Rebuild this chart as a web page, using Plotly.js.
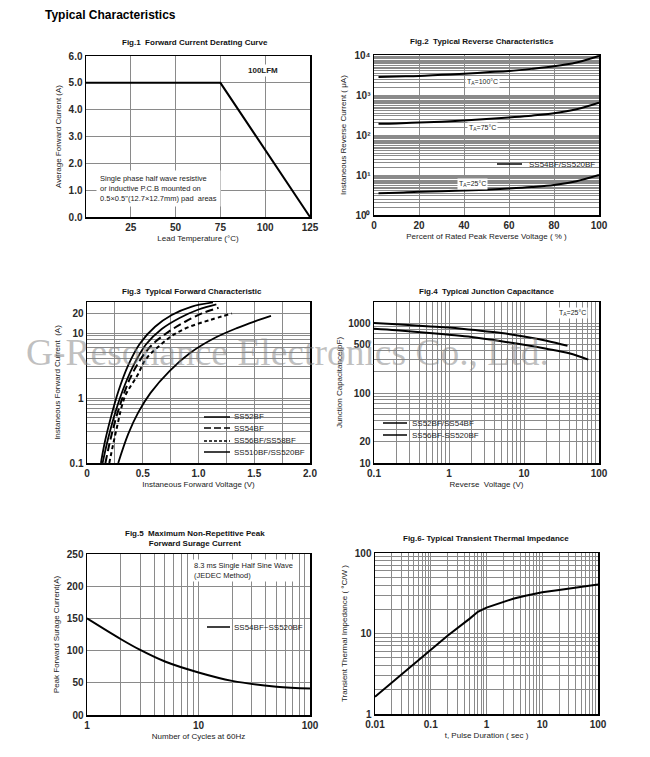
<!DOCTYPE html>
<html><head><meta charset="utf-8">
<script src="https://cdn.plot.ly/plotly-3.0.1.min.js"></script>
<style>html,body{margin:0;padding:0;background:#fff}#chart{width:650px;height:757px}</style>
</head><body><div id="chart"></div>
<script>
// ---------------- DATA ----------------
// Fig.1 Forward Current Derating Curve
const fig1Temp = [0, 75, 125];
const fig1Current = [5, 5, 0];
const fig1XTicks = [25, 50, 75, 100, 125];

// Fig.2 Typical Reverse Characteristics
const fig2Pct = [2, 10, 20, 30, 40, 50, 60, 70, 80, 90, 100];
const fig2I100 = [2800, 2900, 3000, 3200, 3400, 3700, 4000, 4500, 5200, 6500, 9500];
const fig2I75 = [190, 195, 205, 215, 230, 250, 275, 305, 350, 440, 640];
const fig2I25 = [3.5, 3.6, 3.8, 3.9, 4.1, 4.3, 4.6, 5.0, 5.6, 7, 10];
const fig2YTicks = [1, 10, 100, 1000, 10000];
const fig2YLabels = ['10⁰', '10¹', '10²', '10³', '10⁴'];

// Fig.3 Typical Forward Characteristic
const fig3V52a = [0.125, 0.16, 0.22, 0.28, 0.37, 0.475, 0.61, 0.76, 0.94, 1.13];
const fig3I52a = [0.1, 0.21, 0.55, 1.25, 3.2, 6.9, 12.5, 18.9, 25.5, 29.5];
const fig3V52b = [0.14, 0.19, 0.26, 0.34, 0.43, 0.53, 0.67, 0.83, 1.0, 1.16];
const fig3I52b = [0.1, 0.24, 0.65, 1.6, 3.5, 6.7, 11.5, 17, 23, 27.5];
const fig3V54 = [0.165, 0.22, 0.296, 0.386, 0.475, 0.58, 0.73, 0.88, 1.03, 1.18];
const fig3I54 = [0.1, 0.27, 0.78, 2.0, 3.8, 6.5, 10.4, 14.9, 20, 24.5];
const fig3V56 = [0.2, 0.266, 0.34, 0.45, 0.53, 0.66, 0.78, 0.92, 1.1, 1.3];
const fig3I56 = [0.1, 0.34, 1.05, 2.2, 4, 6.6, 9.5, 12.5, 15.8, 20];
const fig3V510 = [0.28, 0.37, 0.46, 0.57, 0.74, 0.93, 1.14, 1.35, 1.5, 1.65];
const fig3I510 = [0.1, 0.28, 0.6, 1.2, 2.6, 5, 8.3, 12, 15, 18.3];
const fig3XTicks = [0, 0.5, 1.0, 1.5, 2.0];
const fig3XLabels = ['0', '0.5', '1.0', '1.5', '2.0'];
const fig3YTicks = [0.1, 1, 10, 20];
const fig3YLabels = ['0.1', '1', '10', '20'];
const fig3Names = ['SS52BF', 'SS54BF', 'SS56BF/SS58BF', 'SS510BF/SS520BF'];

// Fig.4 Typical Junction Capacitance
const fig4V1 = [0.1, 0.2, 0.5, 1, 2, 5, 10, 20, 38];
const fig4C1 = [1000, 960, 900, 865, 800, 720, 645, 560, 473];
const fig4V2 = [0.1, 0.2, 0.5, 1, 2, 5, 10, 20, 40, 72];
const fig4C2 = [830, 790, 730, 680, 630, 550, 490, 430, 370, 300];
const fig4XTicks = [0.1, 1, 10, 100];
const fig4XLabels = ['0.1', '1', '10', '100'];
const fig4YTicks = [10, 20, 100, 500, 1000];
const fig4YLabels = ['10', '20', '100', '500', '1000'];
const fig4Names = ['SS52BF/SS54BF', 'SS56BF-SS520BF'];

// Fig.5 Maximum Non-Repetitive Peak Forward Surage Current
const fig5N = [1, 2, 3, 5, 10, 20, 50, 100];
const fig5I = [150, 118, 101, 83, 66, 53, 44, 41];
const fig5XTicks = [1, 10, 100];
const fig5XLabels = ['1', '10', '100'];
const fig5YTicks = [0, 50, 100, 150, 200, 250];
const fig5YLabels = ['00', '50', '100', '150', '200', '250'];

// Fig.6 Typical Transient Thermal Impedance
const fig6T = [0.01, 0.02, 0.05, 0.1, 0.2, 0.5, 0.7, 1, 2, 3, 5, 10, 20, 30, 50, 100];
const fig6Z = [1.64, 2.45, 4.1, 6.2, 9.4, 15.3, 18.6, 21, 24.8, 27, 29.5, 32.5, 34.8, 36.3, 38.3, 40.5];
const fig6XTicks = [0.01, 0.1, 1, 10, 100];
const fig6XLabels = ['0.01', '0.1', '1', '10', '100'];
const fig6YTicks = [1, 10, 100];
const fig6YLabels = ['1', '10', '100'];

// ---------------- HELPERS ----------------
const W = 650, H = 757;
const FONT = 'Liberation Sans, Arial, sans-serif';
const GRID = '#8a8a8a';
const px = x => x / W;
const py = y => 1 - y / H;
const dX = (a, b) => [a / W, b / W];
const dY = (t, b) => [1 - b / H, 1 - t / H];

// gridline positions for log axes (not data)
function logGrid(k0, k1, steps, extra) {
  const out = [];
  for (let k = k0; k < k1; k++) for (const s of steps) out.push(Number((s * Math.pow(10, k)).toPrecision(6)));
  out.push(Number(Math.pow(10, k1).toPrecision(6)));
  if (extra) extra.forEach(v => out.push(v));
  return out;
}
function minorGrid(vals) {
  return { tickmode: 'array', tickvals: vals, showgrid: true, gridcolor: GRID, gridwidth: 1, ticks: '' };
}
const tickFont = { family: FONT, size: 10, color: '#2a2a2a', weight: 'bold' };
const titleFont = { family: FONT, size: 8, color: '#222' };
function axis(domain, anchor, extra) {
  return Object.assign({
    domain: domain, anchor: anchor, showline: true, mirror: true, linecolor: '#000', linewidth: 1.5,
    showgrid: true, gridcolor: GRID, gridwidth: 1, zeroline: false, ticks: '',
    tickfont: tickFont, fixedrange: true, automargin: false
  }, extra);
}
const steps9 = [1, 2, 3, 4, 5, 6, 7, 8, 9];
const steps05 = [1, 1.5, 2, 2.5, 3, 3.5, 4, 4.5, 5, 5.5, 6, 6.5, 7, 7.5, 8, 8.5, 9, 9.5];

const line = (w, dash) => ({ color: '#000', width: w, dash: dash || 'solid' });
const spl = (w, dash) => Object.assign(line(w, dash), { shape: 'spline' });

// ---------------- TRACES ----------------
const traces = [
  { x: fig1Temp, y: fig1Current, xaxis: 'x', yaxis: 'y', mode: 'lines', line: line(2) },
  { x: fig2Pct, y: fig2I100, xaxis: 'x2', yaxis: 'y2', mode: 'lines', line: spl(2) },
  { x: fig2Pct, y: fig2I75, xaxis: 'x2', yaxis: 'y2', mode: 'lines', line: spl(2) },
  { x: fig2Pct, y: fig2I25, xaxis: 'x2', yaxis: 'y2', mode: 'lines', line: spl(2) },
  { x: fig3V52a, y: fig3I52a, xaxis: 'x3', yaxis: 'y3', mode: 'lines', name: fig3Names[0], line: spl(1.8) },
  { x: fig3V52b, y: fig3I52b, xaxis: 'x3', yaxis: 'y3', mode: 'lines', name: fig3Names[0], line: spl(1.8) },
  { x: fig3V54, y: fig3I54, xaxis: 'x3', yaxis: 'y3', mode: 'lines', name: fig3Names[1], line: spl(2, '8px,4px') },
  { x: fig3V56, y: fig3I56, xaxis: 'x3', yaxis: 'y3', mode: 'lines', name: fig3Names[2], line: spl(2, '4px,3px') },
  { x: fig3V510, y: fig3I510, xaxis: 'x3', yaxis: 'y3', mode: 'lines', name: fig3Names[3], line: spl(1.8) },
  { x: fig4V1, y: fig4C1, xaxis: 'x4', yaxis: 'y4', mode: 'lines', name: fig4Names[0], line: spl(2) },
  { x: fig4V2, y: fig4C2, xaxis: 'x4', yaxis: 'y4', mode: 'lines', name: fig4Names[1], line: spl(2) },
  { x: fig5N, y: fig5I, xaxis: 'x5', yaxis: 'y5', mode: 'lines', name: 'SS54BF~SS520BF', line: spl(2) },
  { x: fig6T, y: fig6Z, xaxis: 'x6', yaxis: 'y6', mode: 'lines', line: line(2) }
];

// ---------------- ANNOTATIONS ----------------
function note(x, y, text, o) {
  return Object.assign({ xref: 'paper', yref: 'paper', x: px(x), y: py(y), text: text, showarrow: false,
    xanchor: 'center', yanchor: 'middle', font: { family: FONT, size: 7.5, color: '#222' } }, o || {});
}
const bold8 = { family: FONT, size: 8, color: '#111', weight: 'bold' };
const lab7 = { family: FONT, size: 7, color: '#222' };
const leg8 = { family: FONT, size: 8, color: '#222' };
const ann = [
  note(195, 43, 'Fig.1  Forward Current Derating Curve', { font: bold8 }),
  note(482, 42, 'Fig.2  Typical Reverse Characteristics', { font: bold8 }),
  note(192, 292, 'Fig.3  Typical Forward Characteristic', { font: bold8 }),
  note(487, 291, 'Fig.4  Typical Junction Capacitance', { font: bold8 }),
  note(195, 538, 'Fig.5  Maximum Non-Repetitive Peak<br>Forward Surage Current', { font: bold8 }),
  note(486, 538, 'Fig.6- Typical Transient Thermal Impedance', { font: bold8 }),

  note(263, 70, '100LFM', { font: { family: FONT, size: 8, color: '#222', weight: 'bold' }, bgcolor: '#fff' }),
  note(96, 189, 'Single phase half wave resistive<br>or inductive P.C.B mounted on<br>0.5×0.5"(12.7×12.7mm) pad  areas',
    { xanchor: 'left', align: 'left', bgcolor: '#fff', borderpad: 3 }),

  note(482, 82, 'T<sub>A</sub>=100°C', { font: lab7, bgcolor: '#fff' }),
  note(482, 128, 'T<sub>A</sub>=75°C', { font: lab7, bgcolor: '#fff' }),
  note(473, 184, 'T<sub>A</sub>=25°C', { font: lab7, bgcolor: '#fff' }),
  note(527, 164, 'SS54BF/SS520BF', { xanchor: 'left', font: leg8 }),

  note(232, 417, fig3Names[0], { xanchor: 'left', font: leg8 }),
  note(232, 428, fig3Names[1], { xanchor: 'left', font: leg8 }),
  note(232, 441, fig3Names[2], { xanchor: 'left', font: leg8 }),
  note(232, 452, fig3Names[3], { xanchor: 'left', font: leg8 }),

  note(572, 313, 'T<sub>A</sub>=25°C', { font: lab7, bgcolor: '#fff' }),
  note(410, 423, fig4Names[0], { xanchor: 'left', font: leg8 }),
  note(410, 435, fig4Names[1], { xanchor: 'left', font: leg8 }),

  note(192, 570, '8.3 ms Single Half Sine Wave<br>(JEDEC Method)', { xanchor: 'left', align: 'left', bgcolor: '#fff' }),
  note(232, 627, 'SS54BF~SS520BF', { xanchor: 'left', font: leg8 }),

  note(287, 352, 'G-Resonance Electronics Co., Ltd.', { font: { family: 'Liberation Serif, Times New Roman, serif', size: 37.5, color: 'rgba(130,130,130,0.5)' } })
];

// ---------------- SHAPES (legend boxes & samples) ----------------
function rect(x0, y0, x1, y1) {
  return { type: 'rect', xref: 'paper', yref: 'paper', x0: px(x0), x1: px(x1), y0: py(y1), y1: py(y0), fillcolor: '#fff', line: { width: 0 }, layer: 'between' };
}
function sample(x0, x1, y, dash) {
  return { type: 'line', xref: 'paper', yref: 'paper', x0: px(x0), x1: px(x1), y0: py(y), y1: py(y), line: { color: '#000', width: 1.5, dash: dash || 'solid' }, layer: 'above' };
}
const shapes = [
  rect(494, 157, 598, 171), sample(497, 522, 164),
  rect(200, 408, 309.5, 462), sample(204, 230, 417), sample(204, 230, 428, '7px,3px'), sample(204, 230, 441, '3px,2px'), sample(204, 230, 452),
  rect(375, 416, 482, 441), sample(383, 407, 423), sample(383, 407, 435),
  rect(203, 620, 309.5, 634), sample(207, 230, 627)
];

// ---------------- LAYOUT ----------------
const layout = {
  width: W, height: H, margin: { l: 0, r: 0, t: 0, b: 0 }, paper_bgcolor: '#fff', plot_bgcolor: '#fff',
  title: { text: 'Typical Characteristics', x: px(45), xanchor: 'left', xref: 'paper', y: py(15), yanchor: 'middle',
    font: { family: FONT, size: 12, color: '#000', weight: 'bold' } },
  showlegend: false,
  xaxis: axis(dX(86, 310), 'y', { range: [0, 125], tickvals: fig1XTicks, title: { text: 'Lead Temperature (°C)', font: titleFont, standoff: 4 } }),
  yaxis: axis(dY(56, 217), 'x', { range: [0, 6], dtick: 1, tickformat: '.1f', title: { text: 'Average Forward Current (A)', font: titleFont, standoff: 6 } }),

  xaxis2: axis(dX(374, 599), 'y2', { range: [0, 100], dtick: 20, title: { text: 'Percent of Rated Peak Reverse Voltage ( % )', font: titleFont, standoff: 4 } }),
  yaxis2: axis(dY(55, 215), 'x2', { type: 'log', range: [0, 4], tickvals: fig2YTicks, ticktext: fig2YLabels, minor: minorGrid(logGrid(0, 4, steps05)),
    title: { text: 'Instaneous Reverse Current ( μA)', font: titleFont, standoff: 6 } }),

  xaxis3: axis(dX(87, 310), 'y3', { range: [0, 2], tickvals: fig3XTicks, ticktext: fig3XLabels, minor: minorGrid([0.25, 0.75, 1.25, 1.75]),
    title: { text: 'Instaneous Forward Voltage (V)', font: titleFont, standoff: 4 } }),
  yaxis3: axis(dY(302, 463), 'x3', { type: 'log', range: [-1, Math.log10(30)], tickvals: fig3YTicks, ticktext: fig3YLabels, minor: minorGrid(logGrid(-1, 1, steps9, [30])),
    title: { text: 'Instaneous Forward Current  (A)', font: titleFont, standoff: 8 } }),

  xaxis4: axis(dX(374, 599), 'y4', { type: 'log', range: [-1, 2], tickvals: fig4XTicks, ticktext: fig4XLabels, minor: minorGrid(logGrid(-1, 2, steps9)),
    title: { text: 'Reverse  Voltage (V)', font: titleFont, standoff: 4 } }),
  yaxis4: axis(dY(302, 463), 'x4', { type: 'log', range: [1, Math.log10(2000)], tickvals: fig4YTicks, ticktext: fig4YLabels, minor: minorGrid(logGrid(1, 3, steps9, [2000])),
    title: { text: 'Junction Capacitance(pF)', font: titleFont, standoff: 4 } }),

  xaxis5: axis(dX(87, 310), 'y5', { type: 'log', range: [0, 2], tickvals: fig5XTicks, ticktext: fig5XLabels, minor: minorGrid(logGrid(0, 2, steps9)),
    title: { text: 'Number of Cycles at 60Hz', font: titleFont, standoff: 4 } }),
  yaxis5: axis(dY(554, 715), 'x5', { range: [0, 250], tickvals: fig5YTicks, ticktext: fig5YLabels,
    title: { text: 'Peak Forward Surage Current(A)', font: titleFont, standoff: 6 } }),

  xaxis6: axis(dX(375, 598), 'y6', { type: 'log', range: [-2, 2], tickvals: fig6XTicks, ticktext: fig6XLabels, minor: minorGrid(logGrid(-2, 2, steps9)),
    title: { text: 't, Pulse Duration ( sec )', font: titleFont, standoff: 4 } }),
  yaxis6: axis(dY(553, 714), 'x6', { type: 'log', range: [0, 2], tickvals: fig6YTicks, ticktext: fig6YLabels, minor: minorGrid(logGrid(0, 2, steps9)),
    title: { text: 'Transient Thermal Impedance ( °C/W )', font: titleFont, standoff: 6 } }),

  annotations: ann,
  shapes: shapes
};

Plotly.newPlot('chart', traces.map(t => Object.assign({ showlegend: false, hoverinfo: 'skip' }, t)), layout, { displayModeBar: false, staticPlot: true });
</script>
</body></html>
